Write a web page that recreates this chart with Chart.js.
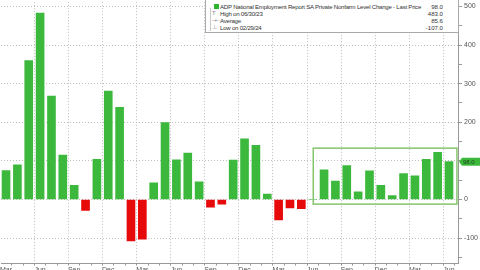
<!DOCTYPE html>
<html>
<head>
<meta charset="utf-8">
<script src="https://cdn.jsdelivr.net/npm/chart.js@4"></script>
<style>
  body { margin: 0; overflow: hidden; background: #fff; }
  #wrap { position: relative; width: 480px; height: 270px; overflow: hidden; }
  #myChart { position: absolute; left: 0; top: -4px; }
  #legend {
    position: absolute; left: 205px; top: -2px; width: 254px; height: 35px;
    background: #fff; border: 1px solid #aaa; box-sizing: border-box;
    font-family: "Liberation Sans", Arial, sans-serif; font-size: 6.1px; letter-spacing: -0.24px; color: #333;
  }
  #legend .row { position: absolute; left: 14px; right: 15px; height: 7px; line-height: 7px; white-space: nowrap; }
  #legend .row .v { position: absolute; right: 0; top: 0; letter-spacing: 0; }
  #legend .ic { position: absolute; left: -8px; top: 0; color: #888; font-size: 6px; letter-spacing: 0; }
  #legend .sq { position: absolute; left: -6px; top: 1px; width: 5px; height: 5px; background: #2db52d; }
  #legend .tree { position: absolute; left: 4px; top: 9px; width: 1px; height: 23px; background: #c8c8c8; }
</style>
</head>
<body>
<div id="wrap">
  <canvas id="myChart" width="480" height="278"></canvas>
  <div id="legend">
    <div class="tree"></div>
    <div class="row" style="top:4px"><span class="sq"></span>ADP National Employment Report SA Private Nonfarm Level Change - Last Price<span class="v">98.0</span></div>
    <div class="row" style="top:11px"><span class="ic">T</span>High on 06/30/23<span class="v">483.0</span></div>
    <div class="row" style="top:18px"><span class="ic">-+-</span>Average<span class="v">85.6</span></div>
    <div class="row" style="top:25px"><span class="ic">⊥</span>Low on 02/29/24<span class="v">-107.0</span></div>
  </div>
</div>
<script>
const months = [
  'Mar', 'Apr', 'May', 'Jun', 'Jul', 'Aug', 'Sep', 'Oct', 'Nov', 'Dec',
  'Jan', 'Feb', 'Mar', 'Apr', 'May', 'Jun', 'Jul', 'Aug', 'Sep', 'Oct', 'Nov', 'Dec',
  'Jan', 'Feb', 'Mar', 'Apr', 'May', 'Jun', 'Jul', 'Aug', 'Sep', 'Oct', 'Nov', 'Dec',
  'Jan', 'Feb', 'Mar', 'Apr', 'May', 'Jun'
];
const values = [
  75, 90, 360, 483, 268, 115, 37, -28, 104, 281,
  239, -107, -103, 43, 199, 103, 120, 46, -20, -12, 102, 157,
  140, 14, -53, -22, -24, 0, 77, 48, 88, 20, 74, 37,
  10, 67, 61, 104, 122, 98
];
const yTicks = [-100, 0, 100, 200, 300, 400, 500];
const yMinorTicks = [-150, -100, -50, 0, 50, 100, 150, 200, 250, 300, 350, 400, 450, 500];
const lastPrice = 98.0;

// highlighted stretch at the end (month index range, value range)
const boxFrom = 27.05, boxTo = 39.7, boxLow = -12, boxHigh = 133;

const points = values.map((v, i) => ({ x: i, y: v }));

const extras = {
  id: 'extras',
  afterDatasetsDraw(chart) {
    const { ctx, scales: { x, y } } = chart;
    ctx.save();
    ctx.strokeStyle = '#86c46c';
    ctx.lineWidth = 1.5;
    const x1 = x.getPixelForValue(boxFrom), x2 = x.getPixelForValue(boxTo);
    const y1 = y.getPixelForValue(boxHigh), y2 = y.getPixelForValue(boxLow);
    ctx.strokeRect(x1, y1, x2 - x1, y2 - y1);
    ctx.restore();
  },
  afterDraw(chart) {
    const { ctx, scales: { y }, chartArea } = chart;
    const py = y.getPixelForValue(lastPrice);
    ctx.save();
    ctx.fillStyle = '#3cb93c';
    ctx.beginPath();
    ctx.moveTo(chartArea.right, py);
    ctx.lineTo(chartArea.right + 3, py - 4);
    ctx.lineTo(480, py - 4);
    ctx.lineTo(480, py + 4);
    ctx.lineTo(chartArea.right + 3, py + 4);
    ctx.closePath();
    ctx.fill();
    ctx.fillStyle = '#1e3d1e';
    ctx.font = '6px "Liberation Sans", Arial, sans-serif';
    ctx.textBaseline = 'middle';
    ctx.fillText(lastPrice.toFixed(1), chartArea.right + 4, py + 0.5);
    ctx.restore();
  }
};

new Chart(document.getElementById('myChart'), {
  type: 'bar',
  data: {
    datasets: [{
      data: points,
      backgroundColor: ctx => (ctx.raw && ctx.raw.y < 0 ? '#e60a0a' : '#3cb93c'),
      barThickness: 8,
      borderWidth: 0
    }]
  },
  options: {
    responsive: false,
    animation: false,
    layout: { padding: 0 },
    plugins: { legend: { display: false }, tooltip: { enabled: false } },
    scales: {
      x: {
        type: 'linear',
        min: -0.44,
        max: 39.88,
        offset: false,
        afterBuildTicks: scale => { scale.ticks = months.map((m, i) => ({ value: i })); },
        ticks: {
          autoSkip: false,
          maxRotation: 0,
          padding: 0,
          color: '#555',
          font: { family: '"Liberation Sans", Arial, sans-serif', size: 7 },
          callback: v => (v % 3 === 0 ? months[v] : '')
        },
        grid: {
          color: c => (c.tick && c.tick.value % 3 === 0 ? '#bdbdbd' : 'rgba(0,0,0,0)'),
          tickColor: '#999',
          tickLength: 2,
          lineWidth: 1
        },
        border: { display: true, color: '#999', dash: [1, 2] }
      },
      y: {
        position: 'right',
        min: -166,
        max: 511,
        afterBuildTicks: scale => { scale.ticks = yMinorTicks.map(v => ({ value: v })); },
        ticks: {
          autoSkip: false,
          padding: 2,
          color: '#555',
          font: { family: '"Liberation Sans", Arial, sans-serif', size: 7 },
          callback: v => (yTicks.includes(v) ? String(v) : '')
        },
        grid: {
          color: c => (c.tick && yTicks.includes(c.tick.value) ? '#bdbdbd' : 'rgba(0,0,0,0)'),
          tickColor: '#999',
          tickLength: 3,
          lineWidth: 1
        },
        border: { display: true, color: '#999', dash: [1, 2] }
      }
    }
  },
  plugins: [extras]
});
</script>
</body>
</html>
